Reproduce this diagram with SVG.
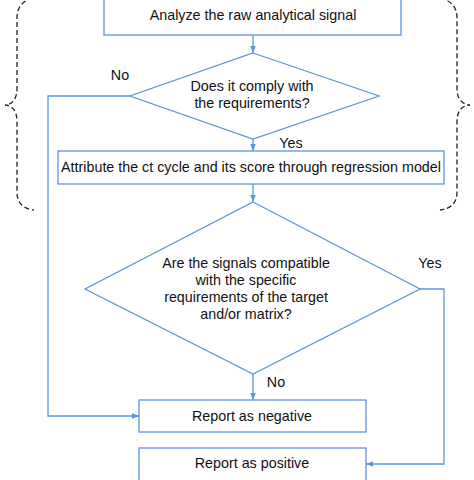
<svg xmlns="http://www.w3.org/2000/svg" width="474" height="480" viewBox="0 0 474 480">
<style>
.n{fill:#fff;stroke:#5e96dc;stroke-width:1.3}
.c{fill:none;stroke:#5e96dc;stroke-width:1.3}
.b{fill:none;stroke:#222;stroke-width:1.3;stroke-dasharray:5,3}
text{font-family:"Liberation Sans",Arial,sans-serif;font-size:14.3px;fill:#111;text-anchor:middle}
</style>
<defs>
<marker id="a" viewBox="0 0 10 10" refX="10" refY="5" markerWidth="7" markerHeight="7" markerUnits="userSpaceOnUse" orient="auto">
<path d="M0,1 L10,5 L0,9 Z" fill="#5e96dc"/>
</marker>
</defs>
<rect width="474" height="480" fill="#fff"/>
<g id="braces">
<path class="b" d="M33,-2 Q17,2 17,18 L17,88 Q17,104 5,105 Q17,106 17,122 L17,192 Q17,208 34,210"/>
<path class="b" d="M440,-2 Q457,2 457,18 L457,88 Q457,104 470,105 Q457,106 457,122 L457,192 Q457,208 440,210"/>
</g>
<g id="connectors">
<path class="c" d="M253,35 L253,53" marker-end="url(#a)"/>
<path class="c" d="M253,139 L253,151" marker-end="url(#a)"/>
<path class="c" d="M253,184 L253,202" marker-end="url(#a)"/>
<path class="c" d="M253,374 L253,400" marker-end="url(#a)"/>
<path class="c" d="M130,96 L48,96 L48,416 L139,416" marker-end="url(#a)"/>
<path class="c" d="M420,289 L444,289 L444,464 L366,464" marker-end="url(#a)"/>
<text x="120" y="80">No</text>
<text x="291" y="148">Yes</text>
<text x="430" y="268">Yes</text>
<text x="276" y="387">No</text>
</g>
<g id="analyze">
<rect class="n" x="104" y="-5" width="297" height="40"/>
<text x="253" y="20">Analyze the raw analytical signal</text>
</g>
<g id="comply">
<path class="n" d="M253,53 L379,96 L253,139 L130,96 Z"/>
<text x="252" y="91">Does it comply with</text>
<text x="252" y="108">the requirements?</text>
</g>
<g id="attribute">
<rect class="n" x="58" y="151" width="386" height="33"/>
<text x="251" y="172">Attribute the ct cycle and its score through regression model</text>
</g>
<g id="compatible">
<path class="n" d="M253,202 L420,289 L253,374 L85,289 Z"/>
<text x="246" y="268">Are the signals compatible</text>
<text x="246" y="285">with the specific</text>
<text x="246" y="302">requirements of the target</text>
<text x="246" y="319">and/or matrix?</text>
</g>
<g id="negative">
<rect class="n" x="139" y="400" width="227" height="32"/>
<text x="252" y="421">Report as negative</text>
</g>
<g id="positive">
<rect class="n" x="139" y="448" width="227" height="40"/>
<text x="252" y="468">Report as positive</text>
</g>
</svg>
